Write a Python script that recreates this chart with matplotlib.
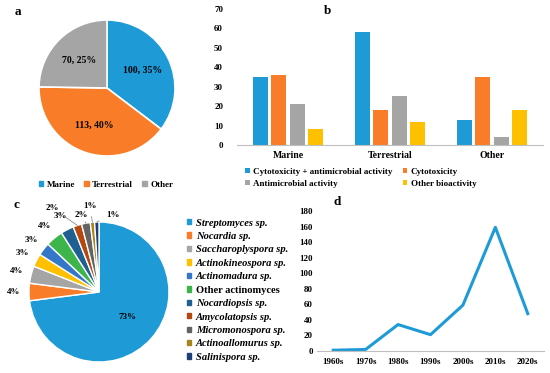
import numpy as np
import matplotlib
matplotlib.use("Agg")
import matplotlib.pyplot as plt
from matplotlib.patches import Patch

plt.rcParams["font.family"] = ["Liberation Serif", "DejaVu Serif"]
plt.rcParams["font.weight"] = "bold"

# panel a
origin_labels = ["Marine", "Terrestrial", "Other"]
origin_counts = [100, 113, 70]
origin_pct = [35, 40, 25]

# panel b
bio_groups = ["Marine", "Terrestrial", "Other"]
bio_series = ["Cytotoxicity + antimicrobial activity", "Cytotoxicity",
              "Antimicrobial activity", "Other bioactivity"]
bio_values = [
    [35, 58, 13],
    [36, 18, 35],
    [21, 25, 4],
    [8, 12, 18],
]

# panel c
genus_labels = ["Streptomyces sp.", "Nocardia sp.", "Saccharoplyspora sp.",
                "Actinokineospora sp.", "Actinomadura sp.", "Other actinomyces",
                "Nocardiopsis sp.", "Amycolatopsis sp.", "Micromonospora sp.",
                "Actinoallomurus sp.", "Salinispora sp."]
genus_pct = [73, 4, 4, 3, 3, 4, 3, 2, 2, 1, 1]

# panel d
decades = ["1960s", "1970s", "1980s", "1990s", "2000s", "2010s", "2020s"]
decade_counts = [1, 2, 34, 21, 59, 159, 48]

BLUE = "#1E9BD7"
ORANGE = "#F97D28"
GRAY = "#A5A5A5"
YELLOW = "#FFC000"
main_colors = [BLUE, ORANGE, GRAY, YELLOW]
genus_colors = [BLUE, ORANGE, GRAY, YELLOW, "#3477C8", "#3DB54A",
                "#1F5F92", "#B5480E", "#636363", "#A8841A", "#1F3F78"]

W, H = 550, 373
fig = plt.figure(figsize=(5.5, 3.73), dpi=100)


def px_axes(left, top, width, height):
    return fig.add_axes([left / W, 1 - (top + height) / H, width / W, height / H])


fs = 6.5

# ---- a ----
ax_a = px_axes(39, 20, 136, 136)
ax_a.pie(origin_counts, colors=main_colors[:3], startangle=90, counterclock=False,
         wedgeprops=dict(edgecolor="white", linewidth=1.2))
ax_a.set_xlim(-1, 1)
ax_a.set_ylim(-1, 1)
ang = 90.0
tot = sum(origin_counts)
for c, p in zip(origin_counts, origin_pct):
    span = 360.0 * c / tot
    mid = np.deg2rad(ang - span / 2)
    ax_a.text(0.58 * np.cos(mid), 0.58 * np.sin(mid), f"{c}, {p}%",
              ha="center", va="center", fontsize=7, fontweight="bold")
    ang -= span
fig.text(15 / W, 1 - 12 / H, "a", fontsize=9.5, fontweight="bold", va="center")
fig.legend(handles=[Patch(color=col) for col in main_colors[:3]], labels=origin_labels,
           loc="center", bbox_to_anchor=(106 / W, 1 - 185 / H), ncol=3, frameon=False,
           fontsize=fs, handlelength=0.5, handleheight=0.5, handletextpad=0.4,
           columnspacing=1.0)

# ---- b ----
ax_b = px_axes(237, 9, 306, 136)
x = np.arange(len(bio_groups))
bw = 0.145
step = 0.18
bars = []
for i, (name, vals) in enumerate(zip(bio_series, bio_values)):
    bars.append(ax_b.bar(x + (i - 1.5) * step, vals, bw, color=main_colors[i], label=name))
ax_b.set_xlim(-0.5, 2.5)
ax_b.set_ylim(0, 70)
ax_b.set_yticks(range(0, 71, 10))
ax_b.set_xticks(x)
ax_b.set_xticklabels(bio_groups, fontsize=7)
ax_b.tick_params(axis="y", labelsize=fs, length=0, pad=10)
ax_b.tick_params(axis="x", length=0, pad=4)
for s in ["top", "right", "left"]:
    ax_b.spines[s].set_visible(False)
ax_b.spines["bottom"].set_color("#BFBFBF")
fig.text(324 / W, 1 - 11 / H, "b", fontsize=9.5, fontweight="bold", va="center")
# legend filled row by row like the original
order = [0, 2, 1, 3]
ax_b.legend([bars[i] for i in order], [bio_series[i] for i in order],
            loc="upper left", bbox_to_anchor=(0.0, -0.11), ncol=2, frameon=False,
            fontsize=fs, handlelength=0.5, handleheight=0.5, handletextpad=0.4,
            columnspacing=1.1, labelspacing=0.4)

# ---- c ----
ax_c = px_axes(29, 222, 140, 140)
wedges, _ = ax_c.pie(genus_pct, colors=genus_colors, startangle=90, counterclock=False,
                     wedgeprops=dict(edgecolor="white", linewidth=1.0))
ax_c.set_xlim(-1, 1)
ax_c.set_ylim(-1, 1)
# label placement (radius, angle) for the crowded small slices
label_override = {7: (1.37, 119), 8: (1.13, 103), 9: (1.24, 96), 10: (1.12, 80)}
for i, (w, p) in enumerate(zip(wedges, genus_pct)):
    mid = (w.theta1 + w.theta2) / 2
    if i == 0:
        ax_c.text(0.55 * np.cos(np.deg2rad(mid)), 0.55 * np.sin(np.deg2rad(mid)),
                  f"{p}%", ha="center", va="center", fontsize=fs, fontweight="bold")
        continue
    r, a = label_override.get(i, (1.22, mid))
    tx, ty = r * np.cos(np.deg2rad(a)), r * np.sin(np.deg2rad(a))
    if i in label_override:
        ex, ey = np.cos(np.deg2rad(mid)), np.sin(np.deg2rad(mid))
        ax_c.annotate(f"{p}%", xy=(ex, ey), xytext=(tx, ty), ha="center", va="center",
                      fontsize=fs, fontweight="bold", annotation_clip=False,
                      arrowprops=dict(arrowstyle="-", color="#8C8C8C", lw=0.6,
                                      shrinkA=3, shrinkB=0))
    else:
        ax_c.text(tx, ty, f"{p}%", ha="center", va="center", fontsize=fs,
                  fontweight="bold", clip_on=False)
fig.text(13 / W, 1 - 205 / H, "c", fontsize=9.5, fontweight="bold", va="center")
leg_c = fig.legend(handles=[Patch(color=col) for col in genus_colors], labels=genus_labels,
                   loc="upper left", bbox_to_anchor=(177 / W, 1 - 209 / H), ncol=1,
                   frameon=False, fontsize=7.6, handlelength=0.4, handleheight=0.4,
                   handletextpad=0.5, labelspacing=0.42)
for i, t in enumerate(leg_c.get_texts()):
    if genus_labels[i] != "Other actinomyces":
        t.set_fontstyle("italic")

# ---- d ----
ax_d = px_axes(317, 211, 227, 140)
xd = np.arange(len(decades))
ax_d.plot(xd, decade_counts, color=BLUE, linewidth=2.2)
ax_d.set_xlim(-0.5, len(decades) - 0.5)
ax_d.set_ylim(0, 180)
ax_d.set_yticks(range(0, 181, 20))
ax_d.set_xticks(xd)
ax_d.set_xticklabels(decades, fontsize=fs)
ax_d.tick_params(axis="y", labelsize=fs, length=0, pad=3)
ax_d.tick_params(axis="x", length=0, pad=5)
for s in ["top", "right", "left"]:
    ax_d.spines[s].set_visible(False)
ax_d.spines["bottom"].set_color("#BFBFBF")
fig.text(333 / W, 1 - 202 / H, "d", fontsize=9.5, fontweight="bold", va="center")

fig.savefig("out.png", dpi=100)
